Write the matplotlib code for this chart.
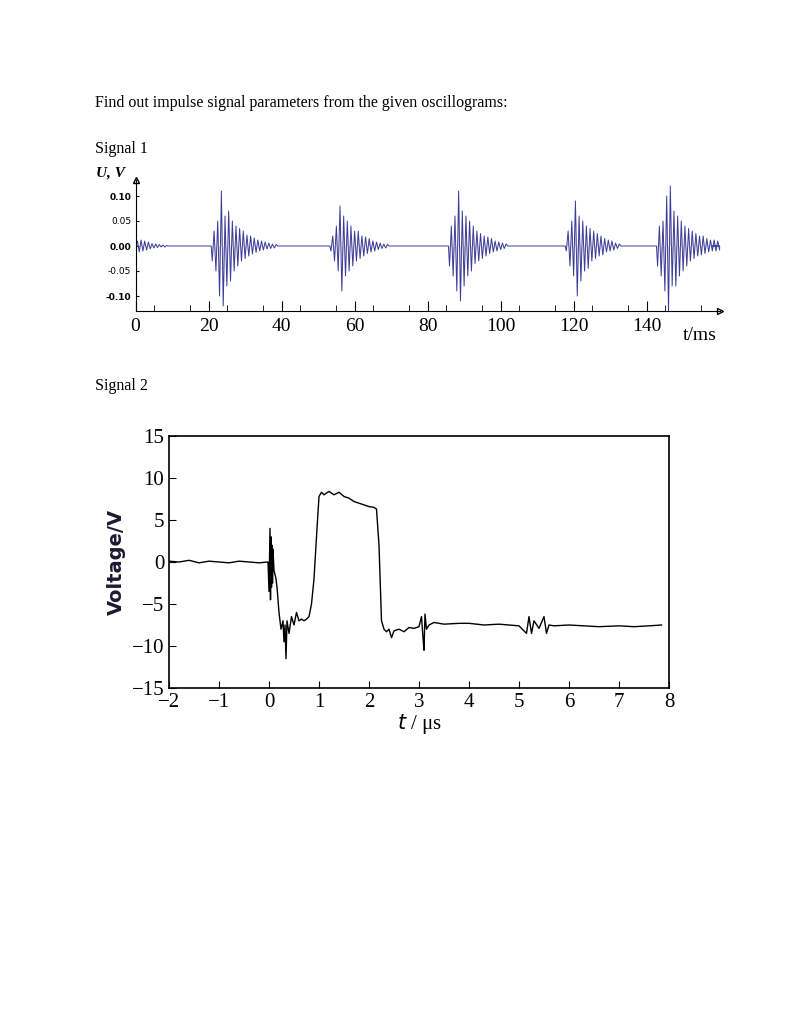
import numpy as np
import matplotlib
import matplotlib.pyplot as plt

matplotlib.use('Agg')

# ---- Signal 1: burst start times (ms) and peak values (V), half-period 0.5 ms
burst_starts = [21.0, 53.5, 86.0, 118.0, 143.0]
burst_peaks = [
    [-0.03, 0.03, -0.05, 0.05, -0.10, 0.11, -0.12, 0.06, -0.08, 0.07, -0.07, 0.05, -0.05, 0.04,
     -0.04, 0.035, -0.03, 0.03, -0.025, 0.022, -0.02, 0.02, -0.016, 0.016, -0.013, 0.012, -0.01,
     0.01, -0.008, 0.008, -0.006, 0.006, -0.005, 0.004, -0.004, 0.003],
    [-0.01, 0.02, -0.03, 0.04, -0.05, 0.08, -0.09, 0.06, -0.06, 0.05, -0.05, 0.04, -0.04, 0.03,
     -0.03, 0.03, -0.025, 0.02, -0.02, 0.018, -0.015, 0.015, -0.012, 0.01, -0.01, 0.008, -0.007,
     0.006, -0.005, 0.004, -0.004, 0.003],
    [-0.04, 0.04, -0.06, 0.06, -0.09, 0.11, -0.11, 0.07, -0.08, 0.06, -0.06, 0.05, -0.05, 0.04,
     -0.035, 0.03, -0.03, 0.025, -0.025, 0.02, -0.02, 0.018, -0.015, 0.015, -0.012, 0.01, -0.01,
     0.008, -0.007, 0.006, -0.005, 0.004],
    [-0.01, 0.03, -0.04, 0.05, -0.06, 0.09, -0.10, 0.06, -0.07, 0.05, -0.05, 0.04, -0.045, 0.035,
     -0.03, 0.03, -0.025, 0.025, -0.02, 0.02, -0.018, 0.015, -0.012, 0.012, -0.01, 0.01, -0.008,
     0.006, -0.005, 0.004],
    [-0.04, 0.04, -0.06, 0.05, -0.09, 0.10, -0.13, 0.12, -0.08, 0.07, -0.08, 0.06, -0.06, 0.05,
     -0.05, 0.04, -0.04, 0.035, -0.03, 0.03, -0.025, 0.025, -0.02, 0.02, -0.018, 0.02, -0.015,
     0.015, -0.012, 0.012, -0.01, 0.012, -0.01, 0.01, -0.008, 0.008, -0.006, 0.006],
]
lead_in = [0.0, 0.01, -0.012, 0.012, -0.01, 0.01, -0.008, 0.008, -0.006, 0.005, -0.004, 0.004,
           -0.003, 0.003, -0.002, 0.002, -0.002, 0.001, 0.0]
y_ticks1 = [0.10, 0.05, 0.00, -0.05, -0.10]
y_labels1 = ['0.10', '0.05', '0.00', '-0.05', '-0.10']
x_ticks1 = [0, 20, 40, 60, 80, 100, 120, 140]

# ---- Signal 2: hand-read trace points (time in us, voltage in V)
sig2_t = [-2.0, -1.8, -1.6, -1.4, -1.2, -1.0, -0.8, -0.6, -0.4, -0.2, -0.02,
          0.0, 0.02, 0.03, 0.04, 0.05, 0.06, 0.07, 0.08, 0.1, 0.12, 0.14, 0.16, 0.18, 0.2,
          0.24, 0.28, 0.3, 0.32, 0.34, 0.36, 0.4, 0.45, 0.5, 0.55, 0.6, 0.65, 0.7, 0.75,
          0.8, 0.85, 0.9, 0.95, 1.0, 1.05, 1.1, 1.2, 1.3, 1.4, 1.5, 1.6, 1.7, 1.8, 1.9,
          2.0, 2.1, 2.15, 2.2, 2.25, 2.3, 2.35, 2.4, 2.45, 2.5, 2.6, 2.7, 2.8, 2.9, 3.0,
          3.05, 3.08, 3.1, 3.12, 3.15, 3.2, 3.3, 3.5, 3.8, 4.0, 4.3, 4.6, 5.0, 5.15, 5.2,
          5.25, 5.3, 5.4, 5.5, 5.55, 5.6, 5.7, 6.0, 6.3, 6.6, 7.0, 7.3, 7.6, 7.85]
sig2_v = [0.1, 0.0, 0.2, -0.1, 0.1, 0.0, -0.1, 0.1, 0.0, -0.1, 0.0,
          -3.5, 4.0, -4.5, 3.0, -3.0, 2.0, -2.5, 1.5, -1.0, -1.5, -2.0, -3.0, -4.5, -6.0,
          -8.0, -7.0, -9.5, -7.5, -11.5, -7.0, -8.5, -6.5, -7.5, -6.0, -7.0, -6.8, -7.0, -6.8,
          -6.5, -5.0, -2.0, 3.0, 7.8, 8.3, 8.0, 8.4, 8.0, 8.3, 7.8, 7.6, 7.2, 7.0, 6.8,
          6.6, 6.5, 6.3, 2.0, -7.0, -8.0, -8.3, -8.0, -9.0, -8.2, -8.0, -8.3, -7.8, -7.9, -7.7,
          -6.5, -9.0, -10.5, -6.2, -8.0, -7.5, -7.2, -7.4, -7.3, -7.3, -7.5, -7.4, -7.6, -8.5,
          -6.5, -8.5, -7.0, -7.9, -6.5, -8.5, -7.5, -7.6, -7.5, -7.6, -7.7, -7.6, -7.7, -7.6, -7.5]
x_ticks2 = [-2, -1, 0, 1, 2, 3, 4, 5, 6, 7, 8]
y_ticks2 = [-15, -10, -5, 0, 5, 10, 15]

# assemble signal 1 trace from listed peaks
t1 = [i * 0.5 for i in range(len(lead_in))]
v1 = list(lead_in)
for start, peaks in zip(burst_starts, burst_peaks):
    t1.append(start - 0.3)
    v1.append(0.0)
    t1 += [start + i * 0.5 for i in range(len(peaks))]
    v1 += peaks
    t1.append(start + len(peaks) * 0.5)
    v1.append(0.0)
t1.append(158.0)
v1.append(0.0)

plt.rcParams['font.family'] = ['Liberation Serif', 'DejaVu Serif']
fig = plt.figure(figsize=(7.91, 10.24), dpi=100)

fig.text(95 / 791, 1 - 103 / 1024, 'Find out impulse signal parameters from the given oscillograms:',
         fontsize=11.5, va='center')
fig.text(95 / 791, 1 - 149 / 1024, 'Signal 1', fontsize=11.5, va='center')
fig.text(95 / 791, 1 - 386 / 1024, 'Signal 2', fontsize=11.5, va='center')

# ---- Signal 1 axes
ax1 = fig.add_axes([135.6 / 791, 1 - 311 / 1024, 584 / 791, 131 / 1024])
ax1.plot(t1, v1, color='#3c3c9a', lw=0.7)
ax1.fill_between(t1, v1, 0, color='#bbbbbb', lw=0, alpha=0.6)
ax1.set_xlim(0, 160)
ax1.set_ylim(-0.13, 0.132)
for s in ['top', 'right']:
    ax1.spines[s].set_visible(False)
ax1.spines['left'].set_linewidth(0.8)
ax1.spines['bottom'].set_linewidth(0.8)
ax1.plot(1, 0, '>', transform=ax1.transAxes, clip_on=False, mfc='white', mec='black', ms=5)
ax1.plot(0, 1, '^', transform=ax1.transAxes, clip_on=False, mfc='white', mec='black', ms=5)
ax1.set_yticks(y_ticks1)
ax1.set_yticklabels(y_labels1, family='DejaVu Sans', fontsize=6.5)
for lab, txt in zip(ax1.get_yticklabels(), y_labels1):
    if txt in ('0.10', '0.00', '-0.10'):
        lab.set_fontweight('bold')
ax1.tick_params(axis='y', direction='in', length=2, pad=3)
ax1.set_xticks(x_ticks1)
ax1.set_xticks(np.arange(5, 160, 10), minor=True)
ax1.set_xticklabels([str(x) for x in x_ticks1], fontsize=14)
ax1.tick_params(axis='x', which='major', direction='in', length=7, pad=5)
ax1.tick_params(axis='x', which='minor', direction='in', length=4)
ax1.text(150, -0.178, 't/ms', fontsize=14, ha='left', va='center')
ax1.text(-3, 0.145, 'U, V', fontsize=11, fontweight='bold', style='italic', ha='right', va='center')

# ---- Signal 2 axes
ax2 = fig.add_axes([169 / 791, 1 - 688 / 1024, 500 / 791, 252 / 1024])
ax2.plot(sig2_t, sig2_v, color='black', lw=1.0)
ax2.set_xlim(-2, 8)
ax2.set_ylim(-15, 15)
ax2.set_xticks(x_ticks2)
ax2.set_yticks(y_ticks2)
ax2.tick_params(direction='in', length=5, labelsize=15)
for s in ax2.spines.values():
    s.set_linewidth(1.2)
ax2.set_xlabel('$t$ / μs', fontsize=15, labelpad=0)
ax2.set_ylabel('Voltage/V', fontsize=14, fontweight='bold', family='DejaVu Sans',
               color='#1a1a30', labelpad=4)

fig.savefig('out.png', dpi=100)
